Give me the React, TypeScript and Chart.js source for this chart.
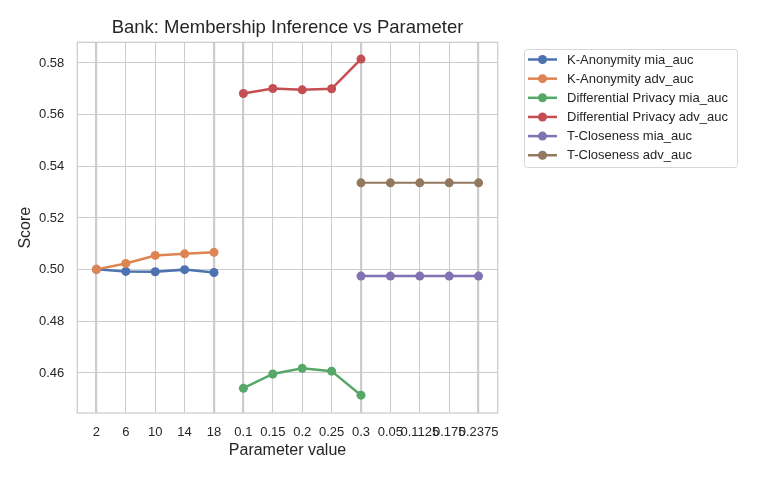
import { useEffect, useRef } from "react";
import { Chart, registerables } from "chart.js";

Chart.register(...registerables);

// Category positions on the x axis (string parameter values, in plotting order)
const categories = ["2", "6", "10", "14", "18", "0.1", "0.15", "0.2", "0.25", "0.3", "0.05", "0.1125", "0.175", "0.2375"];

const kParams = ["2", "6", "10", "14", "18"];
const kMia = [0.5001, 0.4993, 0.4992, 0.5, 0.4989];
const kAdv = [0.5001, 0.5024, 0.5055, 0.5061, 0.5067];

const dpParams = ["0.1", "0.15", "0.2", "0.25", "0.3"];
const dpMia = [0.4541, 0.4596, 0.4618, 0.4607, 0.4514];
const dpAdv = [0.5682, 0.5701, 0.5696, 0.57, 0.5815];

const tParams = ["0.05", "0.1125", "0.175", "0.2375", "0.3"];
const tMia = [0.4975, 0.4975, 0.4975, 0.4975, 0.4975];
const tAdv = [0.5336, 0.5336, 0.5336, 0.5336, 0.5336];

const yTicks = [0.46, 0.48, 0.5, 0.52, 0.54, 0.56, 0.58];
// group boundary positions get a heavier grid line
const boundaryIdx = [0, 4, 5, 9, 13];

const TITLE = "Bank: Membership Inference vs Parameter";
const FONT = "'Liberation Sans', Arial, sans-serif";
const TEXT = "#262626";
const GRID = "#cccccc";

const toPoints = (params: string[], values: number[]) =>
  params.map((p, i) => ({ x: categories.indexOf(p), y: values[i] }));

const series = [
  { label: "K-Anonymity mia_auc", color: "#4c72b0", data: toPoints(kParams, kMia), width: 2.5 },
  { label: "K-Anonymity adv_auc", color: "#dd8452", data: toPoints(kParams, kAdv), width: 2.5 },
  { label: "Differential Privacy mia_auc", color: "#55a868", data: toPoints(dpParams, dpMia), width: 2.5 },
  { label: "Differential Privacy adv_auc", color: "#c44e52", data: toPoints(dpParams, dpAdv), width: 2.5 },
  { label: "T-Closeness mia_auc", color: "#8172b3", data: toPoints(tParams, tMia), width: 2.5 },
  { label: "T-Closeness adv_auc", color: "#937860", data: toPoints(tParams, tAdv), width: 2 },
];

const framePlugin = {
  id: "frameAndLegend",
  afterDatasetsDraw(chart: any) {
    const { ctx, chartArea } = chart;
    ctx.save();
    ctx.strokeStyle = GRID;
    ctx.lineWidth = 1.25;
    ctx.strokeRect(chartArea.left, chartArea.top, chartArea.right - chartArea.left, chartArea.bottom - chartArea.top);
    ctx.restore();
  },
  afterDraw(chart: any) {
    const { ctx, chartArea } = chart;
    ctx.save();
    // title centred over the plotting area
    ctx.font = `18.5px ${FONT}`;
    ctx.fillStyle = TEXT;
    ctx.textAlign = "center";
    ctx.textBaseline = "middle";
    ctx.fillText(TITLE, (chartArea.left + chartArea.right) / 2, 28);

    // legend box
    const bx = 524.5, by = 49.5, bw = 213, bh = 118, r = 3;
    ctx.beginPath();
    ctx.moveTo(bx + r, by);
    ctx.arcTo(bx + bw, by, bx + bw, by + bh, r);
    ctx.arcTo(bx + bw, by + bh, bx, by + bh, r);
    ctx.arcTo(bx, by + bh, bx, by, r);
    ctx.arcTo(bx, by, bx + bw, by, r);
    ctx.closePath();
    ctx.fillStyle = "rgba(255,255,255,0.8)";
    ctx.fill();
    ctx.strokeStyle = "#d6d6d6";
    ctx.lineWidth = 1;
    ctx.stroke();

    ctx.font = `13px ${FONT}`;
    ctx.textBaseline = "middle";
    ctx.textAlign = "left";
    series.forEach((s, i) => {
      const y = 59.5 + i * 19.15;
      ctx.strokeStyle = s.color;
      ctx.lineWidth = 2.5;
      ctx.beginPath();
      ctx.moveTo(528, y);
      ctx.lineTo(557, y);
      ctx.stroke();
      ctx.fillStyle = s.color;
      ctx.beginPath();
      ctx.arc(542.5, y, 4.5, 0, Math.PI * 2);
      ctx.fill();
      ctx.fillStyle = TEXT;
      ctx.fillText(s.label, 567, y + 0.5);
    });
    ctx.restore();
  },
};

export default function App() {
  const ref = useRef<HTMLCanvasElement>(null);

  useEffect(() => {
    document.body.style.margin = "0";
    const canvas = ref.current;
    if (!canvas) return;
    const chart = new Chart(canvas, {
      type: "line",
      data: {
        datasets: series.map((s, i) => ({
          label: s.label,
          data: s.data,
          borderColor: s.color,
          backgroundColor: s.color,
          borderWidth: s.width,
          pointRadius: 4.5,
          pointBorderWidth: 0,
          pointHoverRadius: 4.5,
          pointBackgroundColor: s.color,
          fill: false,
          tension: 0,
          order: -i,
        })),
      },
      options: {
        animation: false,
        responsive: false,
        devicePixelRatio: 1,
        events: [],
        layout: { padding: { top: 42.3, left: 0, right: 270.3, bottom: 0 } },
        plugins: {
          legend: { display: false },
          tooltip: { enabled: false },
          title: { display: false },
        },
        scales: {
          x: {
            type: "linear",
            min: -0.65,
            max: 13.65,
            afterBuildTicks: (scale: any) => {
              scale.ticks = categories.map((_, i) => ({ value: i }));
            },
            afterFit: (scale: any) => {
              scale.height = 67;
            },
            ticks: {
              autoSkip: false,
              maxRotation: 0,
              minRotation: 0,
              padding: 12,
              color: TEXT,
              font: { family: FONT, size: 13 },
              callback: (v: any) => categories[Math.round(Number(v))],
            },
            grid: {
              color: GRID,
              drawTicks: false,
              lineWidth: (ctx: any) => (boundaryIdx.includes(ctx.tick?.value) ? 2.2 : 1),
            },
            border: { display: false },
            title: {
              display: true,
              text: "Parameter value",
              color: TEXT,
              font: { family: FONT, size: 16, lineHeight: 1.2 },
              padding: { top: 0, bottom: 19.6 },
            },
          },
          y: {
            type: "linear",
            min: 0.4445,
            max: 0.588,
            afterBuildTicks: (scale: any) => {
              scale.ticks = yTicks.map((v) => ({ value: v }));
            },
            afterFit: (scale: any) => {
              scale.width = 77.3;
            },
            ticks: {
              padding: 13,
              color: TEXT,
              font: { family: FONT, size: 13 },
              callback: (v: any) => Number(v).toFixed(2),
            },
            grid: { color: GRID, drawTicks: false, lineWidth: 1 },
            border: { display: false },
            title: {
              display: true,
              text: "Score",
              color: TEXT,
              font: { family: FONT, size: 16, lineHeight: 1.2 },
              padding: { top: 15.5, bottom: 0 },
            },
          },
        },
      },
      plugins: [framePlugin],
    } as any);
    return () => chart.destroy();
  }, []);

  return (
    <div style={{ position: "fixed", left: 0, top: 0, width: 768, height: 480 }}>
      <canvas ref={ref} width={768} height={480} style={{ display: "block" }} />
    </div>
  );
}
